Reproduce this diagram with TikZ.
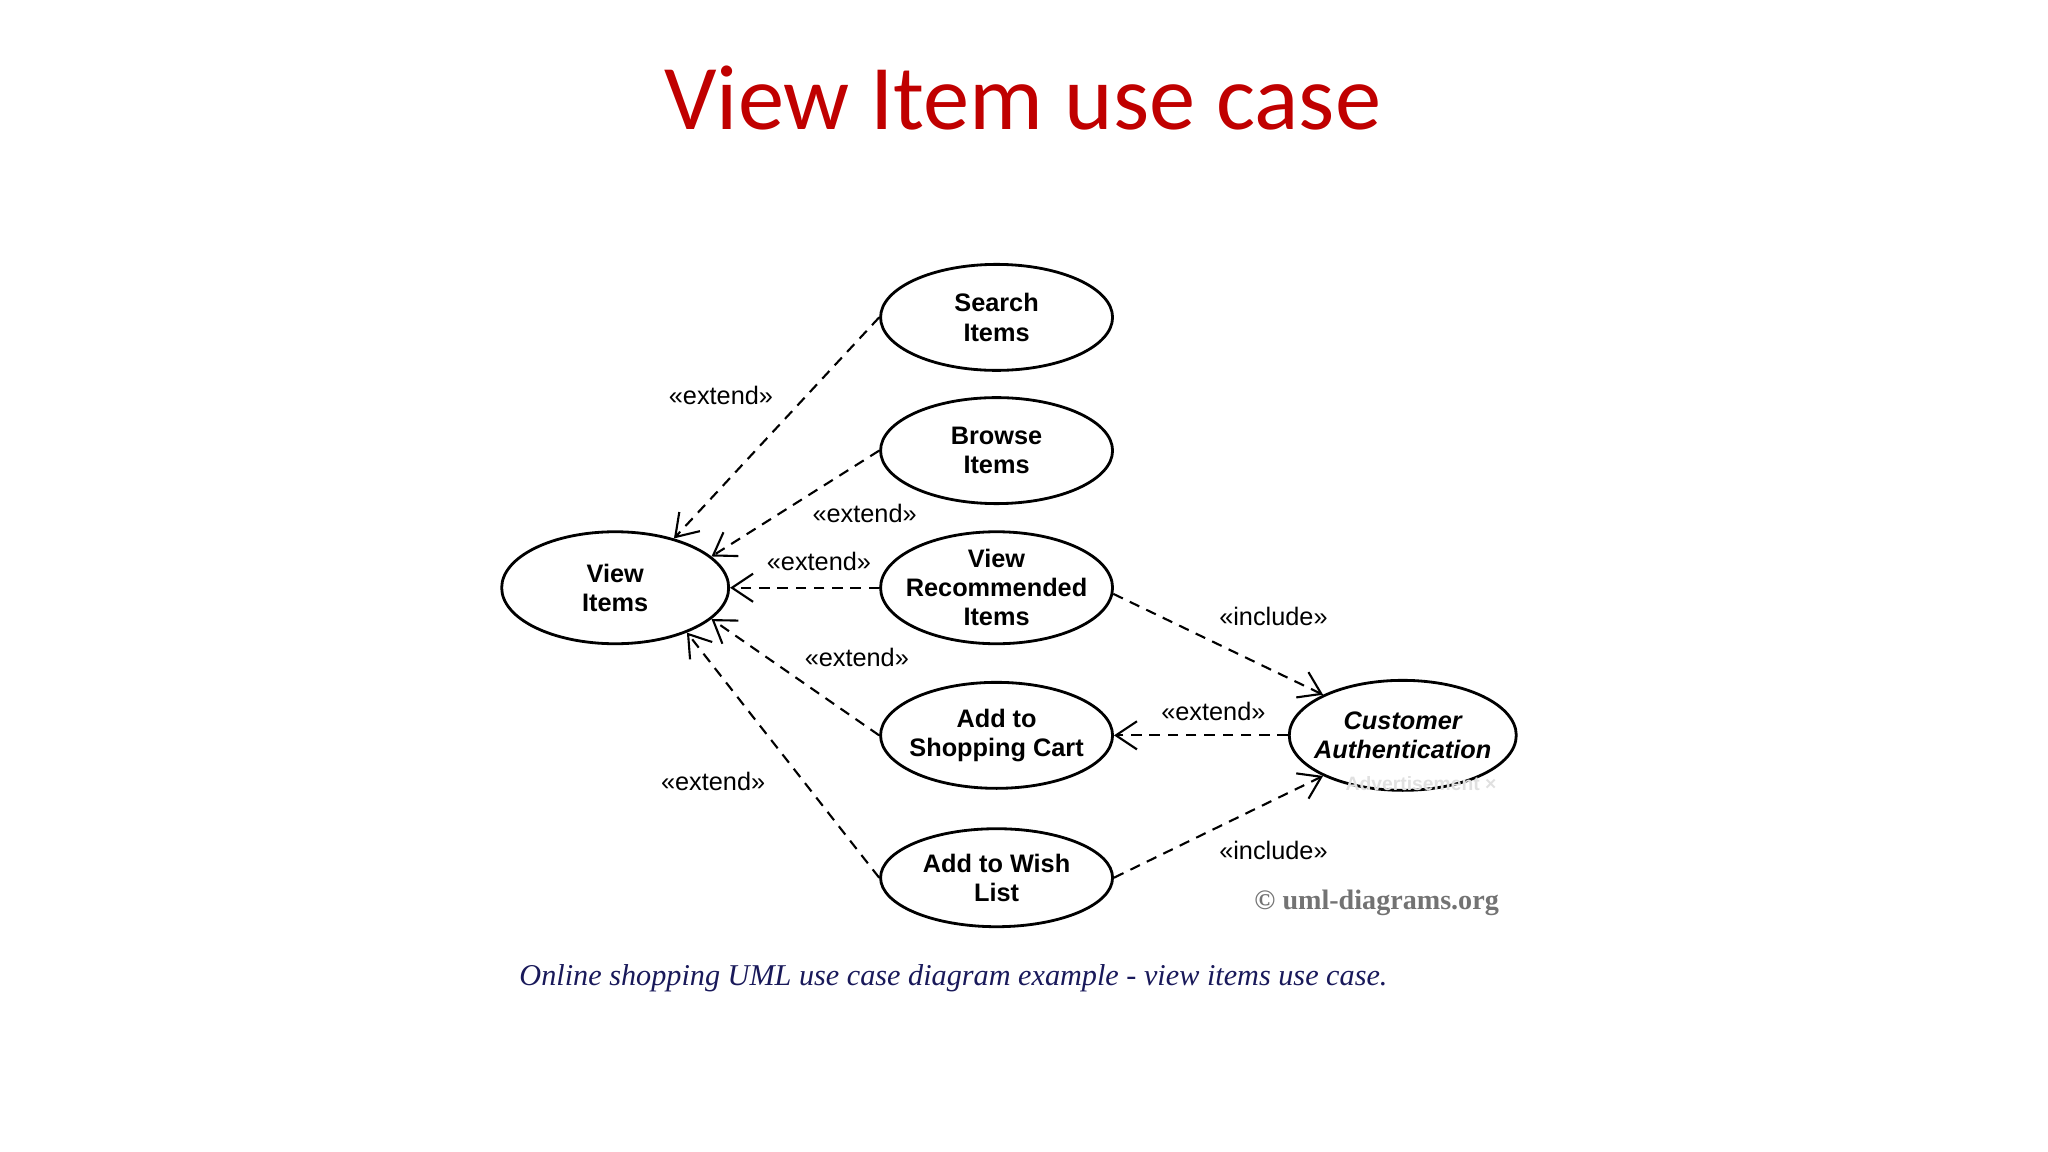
\documentclass[tikz,border=0pt]{standalone}
\usepackage{fontspec}
\setmainfont{Liberation Sans}
\newfontfamily\titlefont{Carlito}
\newfontfamily\serifont{Liberation Serif}
\usetikzlibrary{shapes.geometric,arrows.meta}
\definecolor{titlered}{RGB}{192,0,0}
\definecolor{capblue}{RGB}{25,25,90}
\begin{document}
\begin{tikzpicture}[x=0.013065cm,y=-0.013065cm,
  uc/.style={ellipse,draw,line width=0.8pt,minimum width=2.32cm,minimum height=1.06cm,inner xsep=-6pt,inner ysep=-3pt,align=center,font=\fontsize{7.2}{8.3}\selectfont\bfseries},
  dep/.style={draw,line width=0.6pt,dash pattern=on 3pt off 2.2pt,-{Straight Barb[length=6pt,width=8pt]}},
  lab/.style={font=\fontsize{7.2}{8.3}\selectfont}]
\useasboundingbox (0,0) rectangle (1568,882);
\node[font=\titlefont\fontsize{26.3}{30}\selectfont,text=titlered] (title) at (783,75) {View Item use case};
\node[uc] (search) at (763,243) {Search\\Items};
\node[uc] (browse) at (763,345) {Browse\\Items};
\node[uc,minimum height=1.12cm] (rec) at (763,450) {View\\Recommended\\Items};
\node[uc] (cart) at (763,563) {Add to\\Shopping Cart};
\node[uc,minimum height=0.98cm] (wish) at (763,672) {Add to Wish\\List};
\node[uc,minimum width=2.27cm,minimum height=1.12cm] (vi) at (471,450) {View\\Items};
\node[uc,minimum width=2.27cm,minimum height=1.1cm,font=\fontsize{7.2}{8.3}\selectfont\bfseries\itshape] (auth) at (1074,563) {Customer\\Authentication};
\draw[dep] (search.west) -- (vi.40);
\draw[dep] (browse.west) -- (vi.18);
\draw[dep] (rec.west) -- (vi.east);
\draw[dep] (cart.west) -- (vi.-18);
\draw[dep] (wish.west) -- (vi.-32);
\draw[dep] (rec.-3) -- (auth.153);
\draw[dep] (auth.west) -- (cart.east);
\draw[dep] (wish.east) -- (auth.207);
\node[lab] (l1) at (552,303) {«extend»};
\node[lab] (l2) at (662,393) {«extend»};
\node[lab] (l3) at (627,430) {«extend»};
\node[lab] (l4) at (656,503) {«extend»};
\node[lab] (l5) at (546,598) {«extend»};
\node[lab] (l6) at (929,545) {«extend»};
\node[lab] (l7) at (975,472) {«include»};
\node[lab] (l8) at (975,651) {«include»};
\node[font=\fontsize{5.5}{6}\selectfont\bfseries,text=black!12] (ad) at (1088,600) {Advertisement \texttimes};
\node[font=\serifont\fontsize{8}{8.6}\selectfont\bfseries,text=black!55] (copy) at (1054,691) {© uml-diagrams.org};
\node[font=\serifont\fontsize{8.6}{9.5}\selectfont\itshape,text=capblue] (cap) at (730,749) {Online shopping UML use case diagram example - view items use case.};
\end{tikzpicture}
\end{document}
